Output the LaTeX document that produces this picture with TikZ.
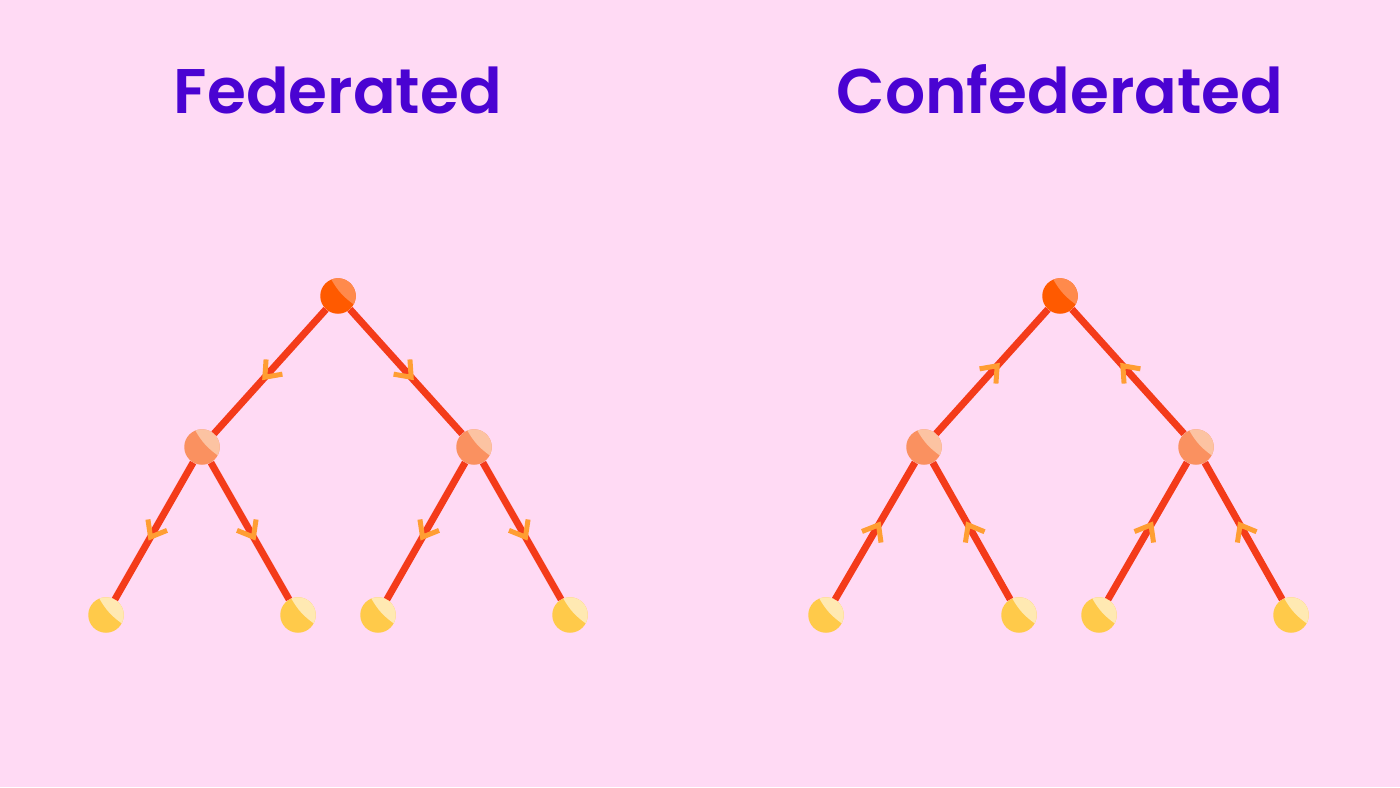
\documentclass[tikz,border=0pt]{standalone}
\usepackage{fontspec}
\setmainfont{Poppins}[BoldFont={Poppins SemiBold}]
\usetikzlibrary{arrows.meta,decorations.markings,calc}
\definecolor{bgc}{HTML}{FFDAF4}
\definecolor{titlec}{HTML}{4A03D2}
\definecolor{edgec}{HTML}{F43B1A}
\definecolor{arrc}{HTML}{FF9E33}
\definecolor{rootA}{HTML}{FF5A00}
\definecolor{rootB}{HTML}{FF8A4C}
\definecolor{midA}{HTML}{FA9160}
\definecolor{midB}{HTML}{FCC3A2}
\definecolor{leafA}{HTML}{FFCA4A}
\definecolor{leafB}{HTML}{FFE9B2}
\tikzset{
  chev/.tip={Straight Barb[length=14pt,width=22pt,line width=5pt,color=arrc]},
  dot/.style 2 args={circle, inner sep=0pt, minimum size=35.5pt, fill=#1,
    path picture={
      \fill[#2] ($(path picture bounding box.center)+(112:17.75pt)$)
        to[bend right=12] ($(path picture bounding box.center)+(-28:17.75pt)$)
        -- ($(path picture bounding box.center)+(-28:17.75pt)+(42:40pt)$)
        -- ($(path picture bounding box.center)+(112:17.75pt)+(42:40pt)$) -- cycle;
    }},
  rootdot/.style={dot={rootA}{rootB}},
  middot/.style={dot={midA}{midB}},
  leafdot/.style={dot={leafA}{leafB}},
  link/.style={draw=edgec, line width=7pt, postaction={decorate},
    decoration={markings, mark=at position 0.57 with {\arrow{chev}}}},
  title/.style={text=titlec, font=\fontsize{63}{76}\selectfont\bfseries, anchor=base, inner sep=0pt}
}
\begin{document}
\begin{tikzpicture}[x=1pt,y=-1pt]
\fill[bgc] (0,0) rectangle (1400,787);
\useasboundingbox (0,0) rectangle (1400,787);

\node[title] (t1) at (338,113) {Federated};
\node[title] (t2) at (1060,113) {Confederated};

% Federated tree
\node[rootdot] (fr) at (338,296) {};
\node[middot] (fm1) at (202,447) {};
\node[middot] (fm2) at (474,447) {};
\node[leafdot] (fl1) at (106,615) {};
\node[leafdot] (fl2) at (298,615) {};
\node[leafdot] (fl3) at (378,615) {};
\node[leafdot] (fl4) at (570,615) {};
\path[link] (fr) -- (fm1);
\path[link] (fr) -- (fm2);
\path[link] (fm1) -- (fl1);
\path[link] (fm1) -- (fl2);
\path[link] (fm2) -- (fl3);
\path[link] (fm2) -- (fl4);

% Confederated tree
\node[rootdot] (cr) at (1060,296) {};
\node[middot] (cm1) at (924,447) {};
\node[middot] (cm2) at (1196,447) {};
\node[leafdot] (cl1) at (826,615) {};
\node[leafdot] (cl2) at (1019,615) {};
\node[leafdot] (cl3) at (1099,615) {};
\node[leafdot] (cl4) at (1291,615) {};
\path[link] (cm1) -- (cr);
\path[link] (cm2) -- (cr);
\path[link] (cl1) -- (cm1);
\path[link] (cl2) -- (cm1);
\path[link] (cl3) -- (cm2);
\path[link] (cl4) -- (cm2);
\end{tikzpicture}
\end{document}
